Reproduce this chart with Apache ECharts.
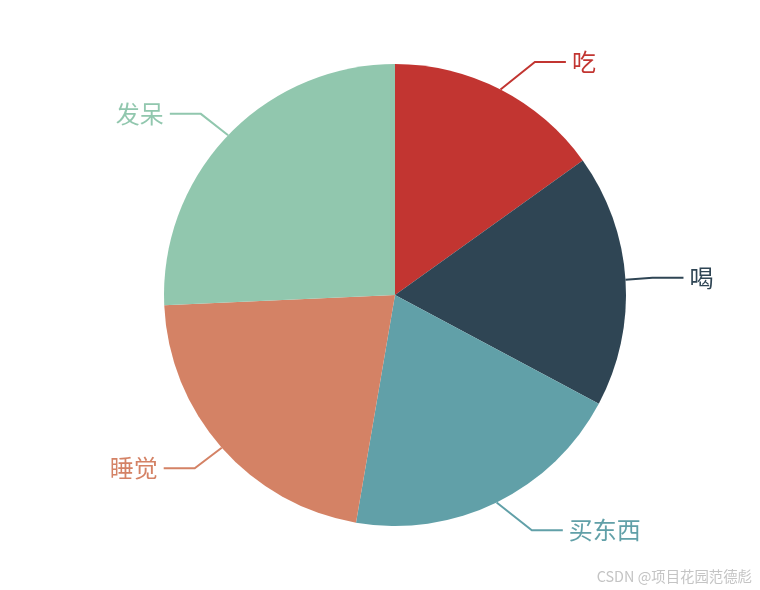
<!DOCTYPE html>
<html><head><meta charset="utf-8">
<script src="https://cdn.jsdelivr.net/npm/echarts@6/dist/echarts.min.js"></script>
<style>html,body{margin:0;padding:0;background:#fff}#c{width:760px;height:590px}</style>
</head><body><div id="c"></div>
<script>
const categories = ['吃', '喝', '买东西', '睡觉', '发呆'];
const values = [15.1, 17.7, 19.9, 21.6, 25.7];
const colors = ['#c23531', '#2f4554', '#61a0a8', '#d48265', '#91c7ae'];
const watermark = 'CSDN @项目花园范德彪';

const CX = 395, CY = 295, R = 231;
const L1 = 31, L2 = 31, R3 = 289, GAP = 6;

const chart = echarts.init(document.getElementById('c'));
chart.setOption({
  animation: false,
  color: colors,
  graphic: [{
    type: 'text', right: 8, top: 569,
    style: { text: watermark, fill: '#c4c4c4', fontSize: 14.4, fontFamily: 'Noto Sans CJK SC' }
  }],
  series: [{
    type: 'pie',
    center: [CX, CY],
    radius: R,
    startAngle: 90,
    clockwise: true,
    data: categories.map((n, i) => ({ name: n, value: values[i], label: { color: colors[i] } })),
    label: { fontSize: 24, fontFamily: 'Noto Sans CJK SC' },
    labelLine: { length: L1, length2: L2, lineStyle: { width: 2 } },
    labelLayout: function (params) {
      const pts = params.labelLinePoints;
      if (!pts) return {};
      const p0 = pts[0];
      const ux = (p0[0] - CX) / R, uy = (p0[1] - CY) / R;
      const y = CY + uy * (R + L1);
      const dir = ux >= 0 ? 1 : -1;
      const dy = Math.abs(y - CY);
      const dx = Math.sqrt(Math.max(R3 * R3 - dy * dy, 0));
      const x3 = CX + dir * dx;
      const x2 = x3 - dir * L2;
      return {
        x: x3 + dir * GAP, y: y,
        align: dir > 0 ? 'left' : 'right', verticalAlign: 'middle',
        labelLinePoints: [[p0[0], p0[1]], [x2, y], [x3, y]]
      };
    }
  }]
});
</script></body></html>
